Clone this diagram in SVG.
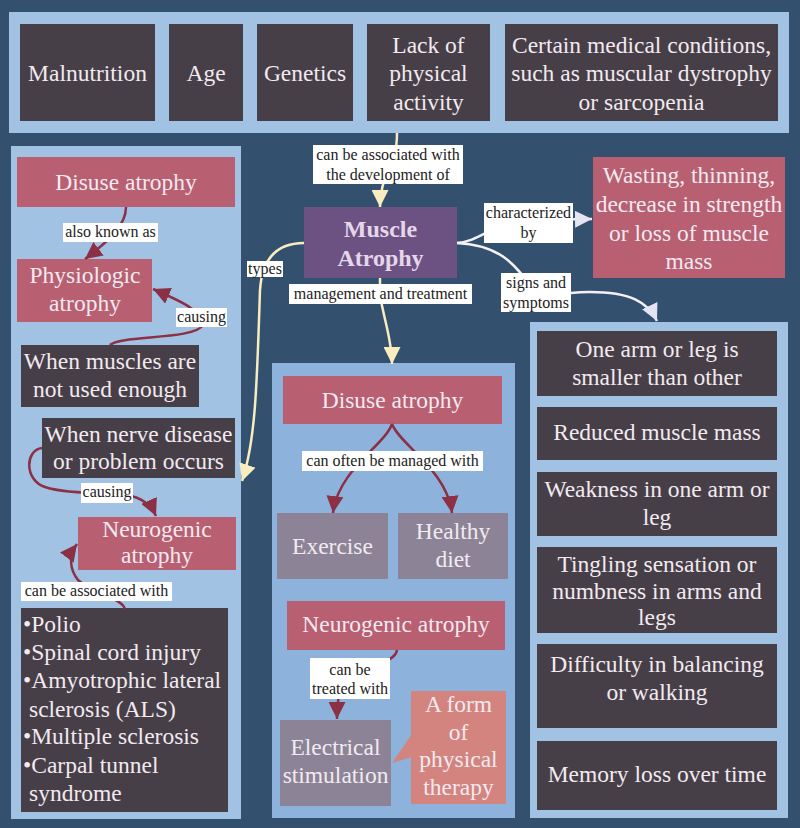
<svg xmlns="http://www.w3.org/2000/svg" width="800" height="828" viewBox="0 0 800 828">
<defs>
<marker id="aw" viewBox="0 0 10 10" refX="10" refY="5" markerWidth="17" markerHeight="17" markerUnits="userSpaceOnUse" orient="auto"><path d="M0,0 L10,5 L0,10 z" fill="#e4e4f2"/></marker>
<marker id="ac" viewBox="0 0 10 10" refX="10" refY="5" markerWidth="17" markerHeight="17" markerUnits="userSpaceOnUse" orient="auto"><path d="M0,0 L10,5 L0,10 z" fill="#f8ecc0"/></marker>
<marker id="ar" viewBox="0 0 10 10" refX="10" refY="5" markerWidth="17" markerHeight="17" markerUnits="userSpaceOnUse" orient="auto"><path d="M0,0 L10,5 L0,10 z" fill="#8c3045"/></marker>
</defs>
<rect x="0" y="0" width="800" height="828" fill="#33506f"/>
<rect id="panel-top" fill="#a2c2e4" x="9" y="12" width="780" height="121"/>
<rect id="panel-left" fill="#a2c2e4" x="11" y="146" width="230" height="673"/>
<rect id="panel-mid" x="272" y="363" width="243" height="455" fill="#8db2dc"/>
<rect id="panel-right" fill="#a2c2e4" x="530" y="322" width="258" height="496"/>
<g id="malnutrition"><rect fill="#473f47" x="20" y="24" width="135" height="97"/><text style="font-family:'Liberation Serif',serif" font-size="23.5" fill="#f2eaf0" text-anchor="middle" x="87.5" y="81">Malnutrition</text></g>
<g id="age"><rect fill="#473f47" x="169" y="24" width="74" height="97"/><text style="font-family:'Liberation Serif',serif" font-size="23.5" fill="#f2eaf0" text-anchor="middle" x="206" y="81">Age</text></g>
<g id="genetics"><rect fill="#473f47" x="257" y="24" width="96" height="97"/><text style="font-family:'Liberation Serif',serif" font-size="23.5" fill="#f2eaf0" text-anchor="middle" x="305" y="81">Genetics</text></g>
<g id="lack"><rect fill="#473f47" x="367" y="24" width="123" height="97"/><text style="font-family:'Liberation Serif',serif" font-size="23.5" fill="#f2eaf0" text-anchor="middle" x="428.5" y="53">Lack of</text><text style="font-family:'Liberation Serif',serif" font-size="23.5" fill="#f2eaf0" text-anchor="middle" x="428.5" y="81">physical</text><text style="font-family:'Liberation Serif',serif" font-size="23.5" fill="#f2eaf0" text-anchor="middle" x="428.5" y="110">activity</text></g>
<g id="certain"><rect fill="#473f47" x="505" y="24" width="273" height="97"/><text style="font-family:'Liberation Serif',serif" font-size="23.5" fill="#f2eaf0" text-anchor="middle" x="641.5" y="53">Certain medical conditions,</text><text style="font-family:'Liberation Serif',serif" font-size="23.5" fill="#f2eaf0" text-anchor="middle" x="641.5" y="81">such as muscular dystrophy</text><text style="font-family:'Liberation Serif',serif" font-size="23.5" fill="#f2eaf0" text-anchor="middle" x="641.5" y="110">or sarcopenia</text></g>
<g id="muscle-atrophy"><rect x="304" y="207" width="153" height="71" fill="#6b5282"/><text style="font-family:'Liberation Serif',serif" font-size="24" font-weight="bold" fill="#e6d6ea" text-anchor="middle" x="380.5" y="237">Muscle</text><text style="font-family:'Liberation Serif',serif" font-size="24" font-weight="bold" fill="#e6d6ea" text-anchor="middle" x="380.5" y="266">Atrophy</text></g>
<g id="wasting"><rect fill="#b85f72" x="593" y="157" width="192" height="121"/><text style="font-family:'Liberation Serif',serif" font-size="23.5" fill="#f2eaf0" text-anchor="middle" x="689" y="183">Wasting, thinning,</text><text style="font-family:'Liberation Serif',serif" font-size="23.5" fill="#f2eaf0" text-anchor="middle" x="689" y="212">decrease in strength</text><text style="font-family:'Liberation Serif',serif" font-size="23.5" fill="#f2eaf0" text-anchor="middle" x="689" y="241">or loss of muscle</text><text style="font-family:'Liberation Serif',serif" font-size="23.5" fill="#f2eaf0" text-anchor="middle" x="689" y="269">mass</text></g>
<g id="disuse-left"><rect fill="#b85f72" x="17" y="157" width="218" height="50"/><text style="font-family:'Liberation Serif',serif" font-size="23.5" fill="#f2eaf0" text-anchor="middle" x="126" y="190">Disuse atrophy</text></g>
<g id="physiologic"><rect fill="#b85f72" x="17" y="259" width="135" height="63"/><text style="font-family:'Liberation Serif',serif" font-size="23.5" fill="#f2eaf0" text-anchor="middle" x="85" y="283">Physiologic</text><text style="font-family:'Liberation Serif',serif" font-size="23.5" fill="#f2eaf0" text-anchor="middle" x="85" y="311">atrophy</text></g>
<g id="not-used"><rect fill="#473f47" x="21" y="345" width="178" height="62"/><text style="font-family:'Liberation Serif',serif" font-size="23.5" fill="#f2eaf0" text-anchor="middle" x="110" y="369">When muscles are</text><text style="font-family:'Liberation Serif',serif" font-size="23.5" fill="#f2eaf0" text-anchor="middle" x="110" y="397">not used enough</text></g>
<g id="nerve"><rect fill="#473f47" x="42" y="418" width="193" height="60"/><text style="font-family:'Liberation Serif',serif" font-size="23.5" fill="#f2eaf0" text-anchor="middle" x="138.5" y="442">When nerve disease</text><text style="font-family:'Liberation Serif',serif" font-size="23.5" fill="#f2eaf0" text-anchor="middle" x="138.5" y="469">or problem occurs</text></g>
<g id="neurogenic-left"><rect fill="#b85f72" x="78" y="517" width="158" height="53"/><text style="font-family:'Liberation Serif',serif" font-size="23.5" fill="#f2eaf0" text-anchor="middle" x="157" y="537">Neurogenic</text><text style="font-family:'Liberation Serif',serif" font-size="23.5" fill="#f2eaf0" text-anchor="middle" x="157" y="563">atrophy</text></g>
<g id="conditions-list"><rect fill="#473f47" x="21" y="608" width="207" height="204"/>
<text style="font-family:'Liberation Serif',serif" font-size="23.5" fill="#f2eaf0" x="23" y="632">&#8226;Polio</text>
<text style="font-family:'Liberation Serif',serif" font-size="23.5" fill="#f2eaf0" x="23" y="660">&#8226;Spinal cord injury</text>
<text style="font-family:'Liberation Serif',serif" font-size="23.5" fill="#f2eaf0" x="23" y="688">&#8226;Amyotrophic lateral</text>
<text style="font-family:'Liberation Serif',serif" font-size="23.5" fill="#f2eaf0" x="29" y="717">sclerosis (ALS)</text>
<text style="font-family:'Liberation Serif',serif" font-size="23.5" fill="#f2eaf0" x="23" y="744">&#8226;Multiple sclerosis</text>
<text style="font-family:'Liberation Serif',serif" font-size="23.5" fill="#f2eaf0" x="23" y="773">&#8226;Carpal tunnel</text>
<text style="font-family:'Liberation Serif',serif" font-size="23.5" fill="#f2eaf0" x="29" y="801">syndrome</text></g>
<g id="disuse-mid"><rect fill="#b85f72" x="283" y="376" width="219" height="48"/><text style="font-family:'Liberation Serif',serif" font-size="23.5" fill="#f2eaf0" text-anchor="middle" x="392.5" y="408">Disuse atrophy</text></g>
<g id="exercise"><rect fill="#8c8496" x="277" y="513" width="111" height="66"/><text style="font-family:'Liberation Serif',serif" font-size="23.5" fill="#f2eaf0" text-anchor="middle" x="332.5" y="554">Exercise</text></g>
<g id="healthy-diet"><rect fill="#8c8496" x="398" y="513" width="110" height="66"/><text style="font-family:'Liberation Serif',serif" font-size="23.5" fill="#f2eaf0" text-anchor="middle" x="453" y="539">Healthy</text><text style="font-family:'Liberation Serif',serif" font-size="23.5" fill="#f2eaf0" text-anchor="middle" x="453" y="567">diet</text></g>
<g id="neurogenic-mid"><rect fill="#b85f72" x="287" y="601" width="218" height="49"/><text style="font-family:'Liberation Serif',serif" font-size="23.5" fill="#f2eaf0" text-anchor="middle" x="396" y="632">Neurogenic atrophy</text></g>
<g id="electrical"><rect fill="#8c8496" x="280" y="720" width="111" height="86"/><text style="font-family:'Liberation Serif',serif" font-size="23.5" fill="#f2eaf0" text-anchor="middle" x="335.5" y="755">Electrical</text><text style="font-family:'Liberation Serif',serif" font-size="23.5" fill="#f2eaf0" text-anchor="middle" x="335.5" y="783">stimulation</text></g>
<g id="physical-therapy"><rect x="411" y="691" width="95" height="113" fill="#d4847f"/><polygon points="412,734 392,763 412,757" fill="#d4847f"/><text style="font-family:'Liberation Serif',serif" font-size="23.5" fill="#f2eaf0" text-anchor="middle" x="458.5" y="712">A form</text><text style="font-family:'Liberation Serif',serif" font-size="23.5" fill="#f2eaf0" text-anchor="middle" x="458.5" y="740">of</text><text style="font-family:'Liberation Serif',serif" font-size="23.5" fill="#f2eaf0" text-anchor="middle" x="458.5" y="767">physical</text><text style="font-family:'Liberation Serif',serif" font-size="23.5" fill="#f2eaf0" text-anchor="middle" x="458.5" y="795">therapy</text></g>
<g id="smaller"><rect fill="#473f47" x="537" y="331" width="240" height="65"/><text style="font-family:'Liberation Serif',serif" font-size="23.5" fill="#f2eaf0" text-anchor="middle" x="657" y="357">One arm or leg is</text><text style="font-family:'Liberation Serif',serif" font-size="23.5" fill="#f2eaf0" text-anchor="middle" x="657" y="385">smaller than other</text></g>
<g id="reduced"><rect fill="#473f47" x="537" y="407" width="240" height="53"/><text style="font-family:'Liberation Serif',serif" font-size="23.5" fill="#f2eaf0" text-anchor="middle" x="657" y="440">Reduced muscle mass</text></g>
<g id="weakness"><rect fill="#473f47" x="537" y="472" width="240" height="64"/><text style="font-family:'Liberation Serif',serif" font-size="23.5" fill="#f2eaf0" text-anchor="middle" x="657" y="497">Weakness in one arm or</text><text style="font-family:'Liberation Serif',serif" font-size="23.5" fill="#f2eaf0" text-anchor="middle" x="657" y="525">leg</text></g>
<g id="tingling"><rect fill="#473f47" x="537" y="547" width="240" height="86"/><text style="font-family:'Liberation Serif',serif" font-size="23.5" fill="#f2eaf0" text-anchor="middle" x="657" y="572">Tingling sensation or</text><text style="font-family:'Liberation Serif',serif" font-size="23.5" fill="#f2eaf0" text-anchor="middle" x="657" y="599">numbness in arms and</text><text style="font-family:'Liberation Serif',serif" font-size="23.5" fill="#f2eaf0" text-anchor="middle" x="657" y="625">legs</text></g>
<g id="difficulty"><rect fill="#473f47" x="537" y="644" width="240" height="84"/><text style="font-family:'Liberation Serif',serif" font-size="23.5" fill="#f2eaf0" text-anchor="middle" x="657" y="672">Difficulty in balancing</text><text style="font-family:'Liberation Serif',serif" font-size="23.5" fill="#f2eaf0" text-anchor="middle" x="657" y="700">or walking</text></g>
<g id="memory"><rect fill="#473f47" x="537" y="741" width="240" height="69"/><text style="font-family:'Liberation Serif',serif" font-size="23.5" fill="#f2eaf0" text-anchor="middle" x="657" y="782">Memory loss over time</text></g>
<g id="connectors" fill="none" stroke-width="2.5">
<path stroke="#f8ecc0" d="M397,133 C397,170 380,172 380,207" marker-end="url(#ac)"/>
<path stroke="#f4f0f4" d="M457,243 C482,241 492,222 530,220 L592,219" marker-end="url(#aw)"/>
<path stroke="#f4f0f4" d="M457,243 C500,245 515,265 530,285 C545,300 560,292 590,292 C630,292 648,302 657,321" marker-end="url(#aw)"/>
<path stroke="#f8ecc0" d="M304,243 C275,243 262,260 260,290 C257,380 256,440 242,481" marker-end="url(#ac)"/>
<path stroke="#f8ecc0" d="M380,278 L380,295 C384,320 392,340 392,364" marker-end="url(#ac)"/>
<path stroke="#8c3045" d="M126,207 C126,225 110,240 85,259" marker-end="url(#ar)"/>
<path stroke="#8c3045" d="M110,345 C120,335 195,340 203,325 C200,310 185,303 153,289" marker-end="url(#ar)"/>
<path stroke="#8c3045" d="M42,448 C25,450 24,480 45,487 C60,492 80,493 105,493 C130,493 148,498 156,516" marker-end="url(#ar)"/>
<path stroke="#8c3045" d="M125,609 C122,598 90,592 78,580 C70,570 68,556 77,544" marker-end="url(#ar)"/>
<path stroke="#8c3045" d="M392,424 C385,445 338,470 333,513" marker-end="url(#ar)"/>
<path stroke="#8c3045" d="M392,424 C400,445 447,470 452,513" marker-end="url(#ar)"/>
<path stroke="#8c3045" d="M397,650 C395,665 360,665 345,680 C338,690 337,705 337,719" marker-end="url(#ar)"/>
</g>
<g id="connector-labels">
<rect fill="#ffffff" x="313" y="145" width="150" height="39"/><text style="font-family:'Liberation Serif',serif" font-size="16" fill="#222222" text-anchor="middle" x="388" y="160">can be associated with</text><text style="font-family:'Liberation Serif',serif" font-size="16" fill="#222222" text-anchor="middle" x="388" y="180">the development of</text>
<rect fill="#ffffff" x="484" y="203" width="89" height="40"/><text style="font-family:'Liberation Serif',serif" font-size="16" fill="#222222" text-anchor="middle" x="528.5" y="218">characterized</text><text style="font-family:'Liberation Serif',serif" font-size="16" fill="#222222" text-anchor="middle" x="528.5" y="238">by</text>
<rect fill="#ffffff" x="501" y="273" width="70" height="39"/><text style="font-family:'Liberation Serif',serif" font-size="16" fill="#222222" text-anchor="middle" x="536" y="288">signs and</text><text style="font-family:'Liberation Serif',serif" font-size="16" fill="#222222" text-anchor="middle" x="536" y="308">symptoms</text>
<rect fill="#ffffff" x="247" y="261" width="36" height="16"/><text style="font-family:'Liberation Serif',serif" font-size="16" fill="#222222" text-anchor="middle" x="265" y="274">types</text>
<rect fill="#ffffff" x="289" y="284" width="183" height="20"/><text style="font-family:'Liberation Serif',serif" font-size="16" fill="#222222" text-anchor="middle" x="380.5" y="299">management and treatment</text>
<rect fill="#ffffff" x="63" y="223" width="95" height="19"/><text style="font-family:'Liberation Serif',serif" font-size="16" fill="#222222" text-anchor="middle" x="110.5" y="237">also known as</text>
<rect fill="#ffffff" x="176" y="308" width="51" height="19"/><text style="font-family:'Liberation Serif',serif" font-size="16" fill="#222222" text-anchor="middle" x="201.5" y="322">causing</text>
<rect fill="#ffffff" x="81" y="483" width="52" height="20"/><text style="font-family:'Liberation Serif',serif" font-size="16" fill="#222222" text-anchor="middle" x="107" y="497">causing</text>
<rect fill="#ffffff" x="21" y="582" width="151" height="19"/><text style="font-family:'Liberation Serif',serif" font-size="16" fill="#222222" text-anchor="middle" x="96.5" y="596">can be associated with</text>
<rect fill="#ffffff" x="302" y="451" width="181" height="20"/><text style="font-family:'Liberation Serif',serif" font-size="16" fill="#222222" text-anchor="middle" x="392.5" y="466">can often be managed with</text>
<rect fill="#ffffff" x="310" y="658" width="80" height="41"/><text style="font-family:'Liberation Serif',serif" font-size="16" fill="#222222" text-anchor="middle" x="350" y="675">can be</text><text style="font-family:'Liberation Serif',serif" font-size="16" fill="#222222" text-anchor="middle" x="350" y="694">treated with</text>
</g>
</svg>
